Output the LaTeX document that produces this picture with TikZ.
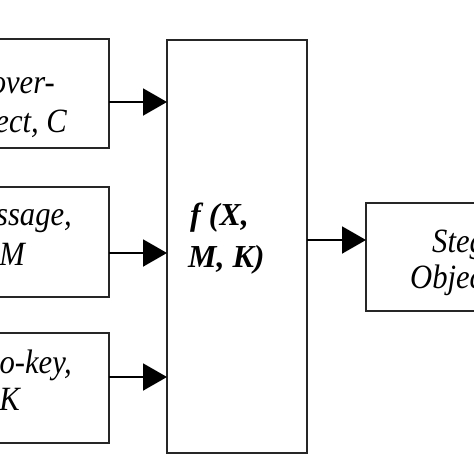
\documentclass[tikz,border=0pt]{standalone}
\usepackage{fontspec}
\setmainfont{Liberation Serif}
\newfontfamily\narrowserif[FakeStretch=0.9]{Liberation Serif}
\usetikzlibrary{arrows.meta}
\begin{document}
\begin{tikzpicture}[x=1pt,y=-1pt,
  boxline/.style={draw=black!85, line width=2.2pt},
  lbl/.style={font=\narrowserif\fontsize{34}{36}\selectfont\itshape, inner sep=0pt},
  fnlbl/.style={font=\fontsize{32}{36}\selectfont\bfseries\itshape, inner sep=0pt},
  arr/.style={line width=2pt, -{Triangle[length=24pt,width=27pt]}}]
\useasboundingbox (0,0) rectangle (474,474);
\clip (0,0) rectangle (474,474);
% boxes
\draw[boxline] (-100,39) rectangle (109,148);
\draw[boxline] (-100,187) rectangle (109,297);
\draw[boxline] (-100,333) rectangle (109,443);
\draw[boxline] (167,40) rectangle (307,453);
\draw[boxline] (366,203) rectangle (580,311);
\coordinate (c1) at (109,102);
\coordinate (m1) at (167,102);
\coordinate (c2) at (109,253);
\coordinate (m2) at (167,253);
\coordinate (c3) at (109,377);
\coordinate (m3) at (167,377);
\coordinate (fo) at (307,240);
\coordinate (si) at (366,240);
\draw[arr] (c1) -- (m1);
\draw[arr] (c2) -- (m2);
\draw[arr] (c3) -- (m3);
\draw[arr] (fo) -- (si);
% texts
\node[lbl, anchor=base east] (t1a) at (55,93) {Cover-};
\node[lbl, anchor=base east] (t1b) at (67,132) {object, C};
\node[lbl, anchor=base east] (t2a) at (72,225) {Message,};
\node[lbl, anchor=base east] (t2b) at (25,265) {M};
\node[lbl, anchor=base east] (t3a) at (72,373) {Stego-key,};
\node[lbl, anchor=base east] (t3b) at (20,410) {K};
\node[fnlbl, anchor=base west] (fa) at (190,225) {f (X,};
\node[fnlbl, anchor=base west] (fb) at (188,267) {M, K)};
\node[lbl, anchor=base west] (s1) at (432,252) {Stego-};
\node[lbl, anchor=base west] (s2) at (410,288) {Object};
\end{tikzpicture}
\end{document}
